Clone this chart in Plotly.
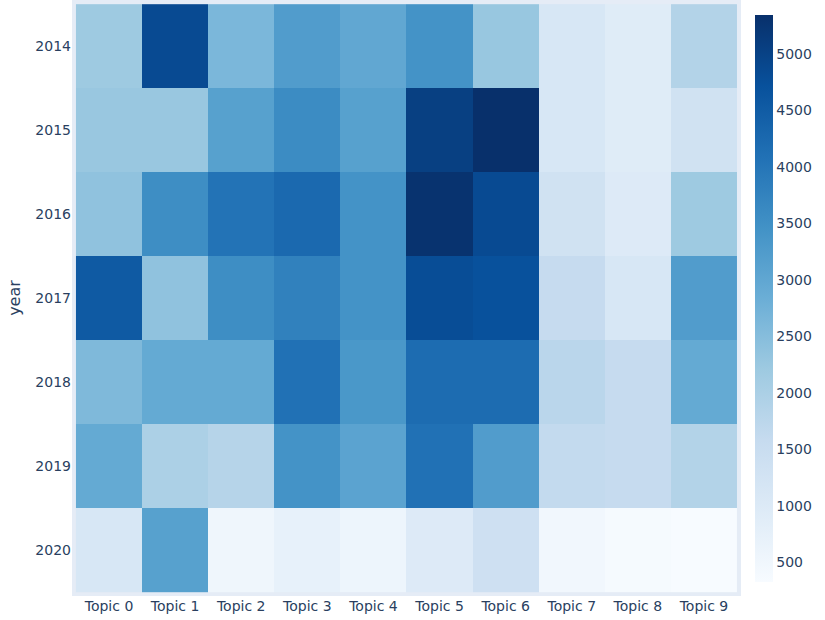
import plotly.graph_objects as go

topics = ["Topic 0", "Topic 1", "Topic 2", "Topic 3", "Topic 4",
          "Topic 5", "Topic 6", "Topic 7", "Topic 8", "Topic 9"]
years = ["2014", "2015", "2016", "2017", "2018", "2019", "2020"]

y2014 = [2210, 4850, 2640, 3240, 2990, 3440, 2290, 1130, 930, 1880]
y2015 = [2270, 2270, 3140, 3590, 3140, 5050, 5350, 1130, 930, 1330]
y2016 = [2390, 3540, 4050, 4250, 3440, 5300, 4850, 1330, 980, 2210]
y2017 = [4540, 2390, 3540, 3790, 3440, 4800, 4720, 1580, 1130, 3240]
y2018 = [2590, 2940, 2940, 4100, 3340, 4200, 4200, 1780, 1580, 2940]
y2019 = [2940, 1990, 1840, 3440, 3090, 4100, 3240, 1630, 1580, 1880]
y2020 = [1130, 3140, 530, 730, 580, 980, 1380, 480, 380, 330]

z = [y2014, y2015, y2016, y2017, y2018, y2019, y2020]

fig = go.Figure(go.Heatmap(
    z=z, x=topics, y=years,
    colorscale="Blues",
    colorbar=dict(thickness=18, dtick=500, tick0=0, len=0.985,
                  x=1.0, xpad=14, outlinewidth=0,
                  tickfont=dict(size=14)),
))
fig.update_layout(
    template="plotly",
    width=825, height=620,
    font=dict(family="DejaVu Sans", size=14, color="#2a3f5f"),
    margin=dict(l=72, r=84, t=0, b=24),
    xaxis=dict(range=[-0.56, 9.56], showgrid=False, zeroline=False,
               tickfont=dict(size=14)),
    yaxis=dict(title=dict(text="year", font=dict(size=16), standoff=10),
               range=[6.55, -0.55], showgrid=False, zeroline=False,
               tickfont=dict(size=14)),
)
fig.write_html("out.html", config={"displayModeBar": False},
               post_script="document.body.style.margin='0';")
